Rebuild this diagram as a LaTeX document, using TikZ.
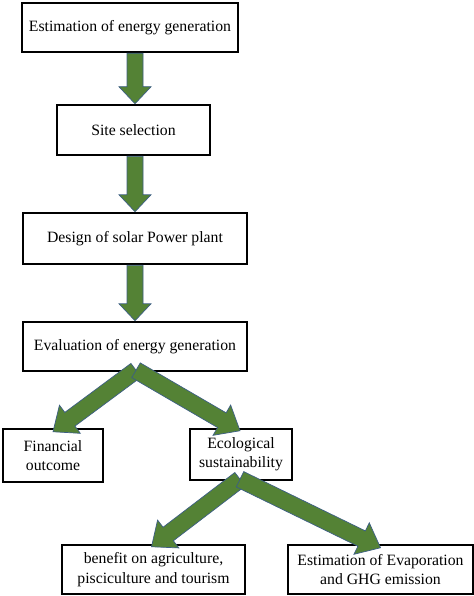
\documentclass[tikz,border=0pt]{standalone}
\usepackage{fontspec}
\setmainfont{Liberation Serif}
\usetikzlibrary{calc}
\definecolor{arrgreen}{HTML}{548235}
\definecolor{arredge}{HTML}{3C5E84}
\tikzset{
  box/.style={draw=black, line width=2.5bp, fill=white, align=center, inner sep=0pt,
    font=\fontsize{15.8}{19.5}\selectfont},
  blockarrow/.style={fill=arrgreen, draw=arredge, line width=0.7bp, line join=miter}
}
\newcommand\blockarr[5]{%
  \path ($(#2)!#5!(#1)$) coordinate (hb);
  \path ($(#1)!#3!90:(#2)$) coordinate (s1);
  \path ($(#1)!#3!-90:(#2)$) coordinate (s2);
  \path ($(hb)!#3!-90:(#1)$) coordinate (h1);
  \path ($(hb)!#3!90:(#1)$) coordinate (h2);
  \path ($(hb)!#4!-90:(#1)$) coordinate (w1);
  \path ($(hb)!#4!90:(#1)$) coordinate (w2);
  \draw[blockarrow] (s1) -- (h1) -- (w1) -- (#2) -- (w2) -- (h2) -- (s2) -- cycle;
}
\begin{document}
\begin{tikzpicture}[x=1bp, y=-1bp]
\useasboundingbox[fill=white] (0,0) rectangle (474,596);
\node[box, minimum width=216bp, minimum height=49bp] (b1) at (130,27.5) {Estimation of energy generation};
\node[box, minimum width=153bp, minimum height=50bp] (b2) at (133.5,130) {Site selection};
\node[box, minimum width=224bp, minimum height=51bp] (b3) at (135,238.5) {Design of solar Power plant};
\node[box, minimum width=224bp, minimum height=49bp] (b4) at (135,346.5) {Evaluation of energy generation};
\node[box, minimum width=100bp, minimum height=53bp] (fin) at (53,455.5) {Financial\\outcome};
\node[box, minimum width=102bp, minimum height=51bp] (eco) at (241,454.5) {Ecological\\sustainability};
\node[box, minimum width=183bp, minimum height=49bp] (ben) at (153.5,569.5) {benefit on agriculture,\\pisciculture and tourism};
\node[box, minimum width=185bp, minimum height=49bp] (eva) at (380.5,569.5) {Estimation of Evaporation\\and GHG emission};
% vertical arrow anchors
\coordinate (a1s) at (b1.south -| b4.north);
\coordinate (a1e) at (b2.north -| b4.north);
\coordinate (a2s) at (b2.south -| b4.north);
\coordinate (a2e) at (b3.north -| b4.north);
\coordinate (a3s) at (b3.south -| b4.north);
\coordinate (a3e) at (b4.north);
\blockarr{a1s}{a1e}{8bp}{16bp}{17bp}
\blockarr{a2s}{a2e}{8bp}{16bp}{17bp}
\blockarr{a3s}{a3e}{8bp}{16bp}{17bp}
% splits
\coordinate (j1) at ([xshift=1bp,yshift=2bp]b4.south);
\coordinate (j2) at ([xshift=-1bp,yshift=2bp]eco.south);
\coordinate (tfin) at ([yshift=-4bp]fin.north);
\coordinate (teco) at ([xshift=-1bp,yshift=-3bp]eco.north);
\coordinate (tben) at ([xshift=-2bp,yshift=-3bp]ben.north);
\coordinate (teva) at ([yshift=-4bp]eva.north);
\blockarr{j1}{tfin}{8.5bp}{17.5bp}{21bp}
\blockarr{j1}{teco}{8.5bp}{17.5bp}{21bp}
\blockarr{j2}{tben}{8.5bp}{17.5bp}{21bp}
\blockarr{j2}{teva}{8.5bp}{17.5bp}{21bp}
\end{tikzpicture}
\end{document}
